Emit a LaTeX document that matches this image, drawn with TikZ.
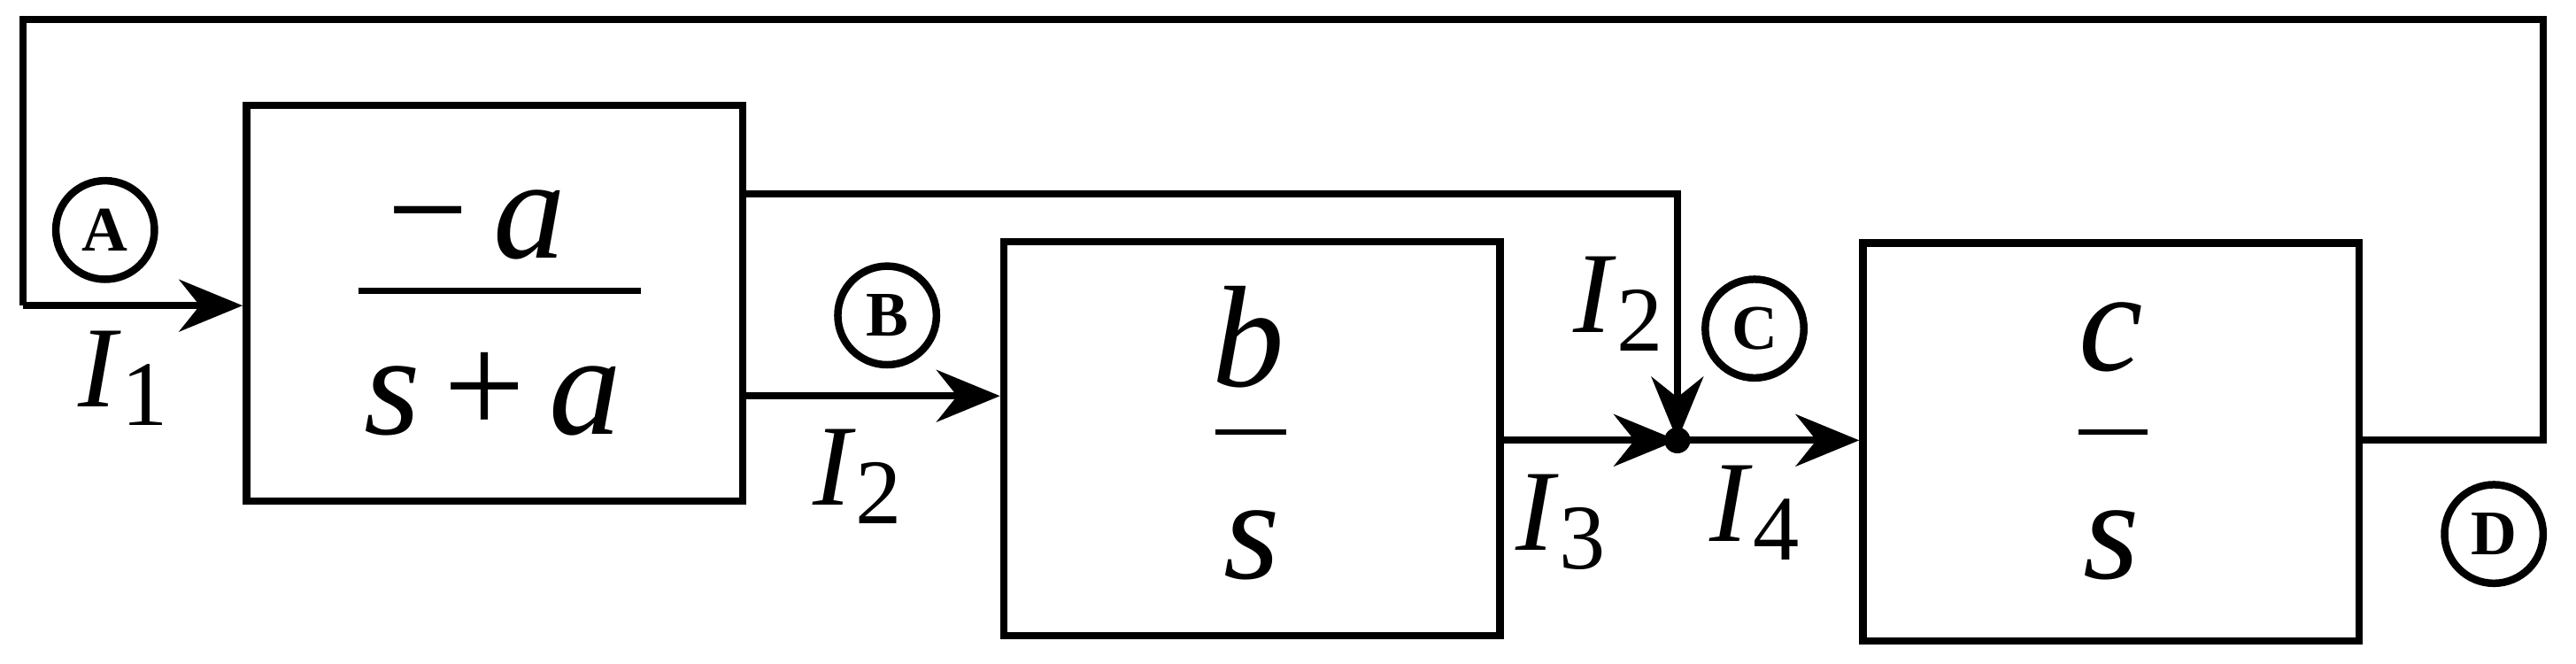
\documentclass[tikz,border=0pt]{standalone}
\usepackage{fontspec}
\setmainfont{Liberation Serif}
\usetikzlibrary{arrows.meta}
\newcommand{\cur}[1]{\textit{I}\raisebox{-0.35ex}{\fontsize{16}{18}\selectfont #1}}
\begin{document}
\begin{tikzpicture}[x=0.01cm,y=-0.01cm,line width=1.2pt,
  blk/.style={draw,line width=1.3pt,minimum width=302*0.01cm,inner sep=0},
  ft/.style={font=\fontsize{25}{28}\selectfont\itshape},
  lb/.style={font=\fontsize{20}{24}\selectfont},
  circ/.style={draw,circle,line width=1.3pt,minimum size=0.6cm,inner sep=0,font=\fontsize{11}{12}\selectfont\bfseries},
  arr/.style={-{Stealth[length=11pt,width=9pt]}}]
\useasboundingbox (0,0) rectangle (1568,404);
\node[blk,minimum height=241*0.01cm] (b1) at (301,184.5) {};
\node[blk,minimum height=240*0.01cm] (b2) at (762,267) {};
\node[blk,minimum height=242*0.01cm] (b3) at (1285,269) {};
\node[ft] (n1) at (290,137) {\upshape −\,\itshape a};
\draw[line width=1pt] (218,177) -- (390,177);
\node[ft] (d1) at (300,240) {s\,\upshape+\,\itshape a};
\node[ft] (n2) at (760,205) {b};
\draw[line width=1pt] (740,263) -- (783,263);
\node[ft] (d2) at (762,332) {s};
\node[ft] (n3) at (1285,205) {c};
\draw[line width=1pt] (1265,263) -- (1307,263);
\node[ft] (d3) at (1285,332) {s};
\coordinate (tl) at (14,12); \coordinate (tr) at (1548,12);
\coordinate (lb) at (14,186); \coordinate (rb) at (1548,268);
\coordinate (k) at (1021,118);
\node[circle,fill,inner sep=0,minimum size=4.5pt] (dot) at (1021,268) {};
\draw[arr] (lb) -- (b1.west |- lb);
\draw (lb) -- (tl) -- (tr) -- (rb) -- (b3.east |- rb);
\draw[arr] (b1.east |- 0,241) -- (b2.west |- 0,241);
\draw[arr] (b1.east |- k) -- (k) -- (dot.center);
\draw[arr] (b2.east |- dot) -- (dot.center);
\draw[arr] (dot.center) -- (b3.west |- dot);
\node[circ] (A) at (64,140) {A};
\node[circ] (B) at (540,192) {B};
\node[circ] (C) at (1068,200) {C};
\node[circ] (D) at (1518,325) {D};
\node[lb] (i1) at (75,230) {\cur{1}};
\node[lb] (i2) at (522,290) {\cur{2}};
\node[lb] (i3) at (950,318) {\cur{3}};
\node[lb] (i4) at (1068,312) {\cur{4}};
\node[lb] (i5) at (985,185) {\cur{2}};
\end{tikzpicture}
\end{document}
